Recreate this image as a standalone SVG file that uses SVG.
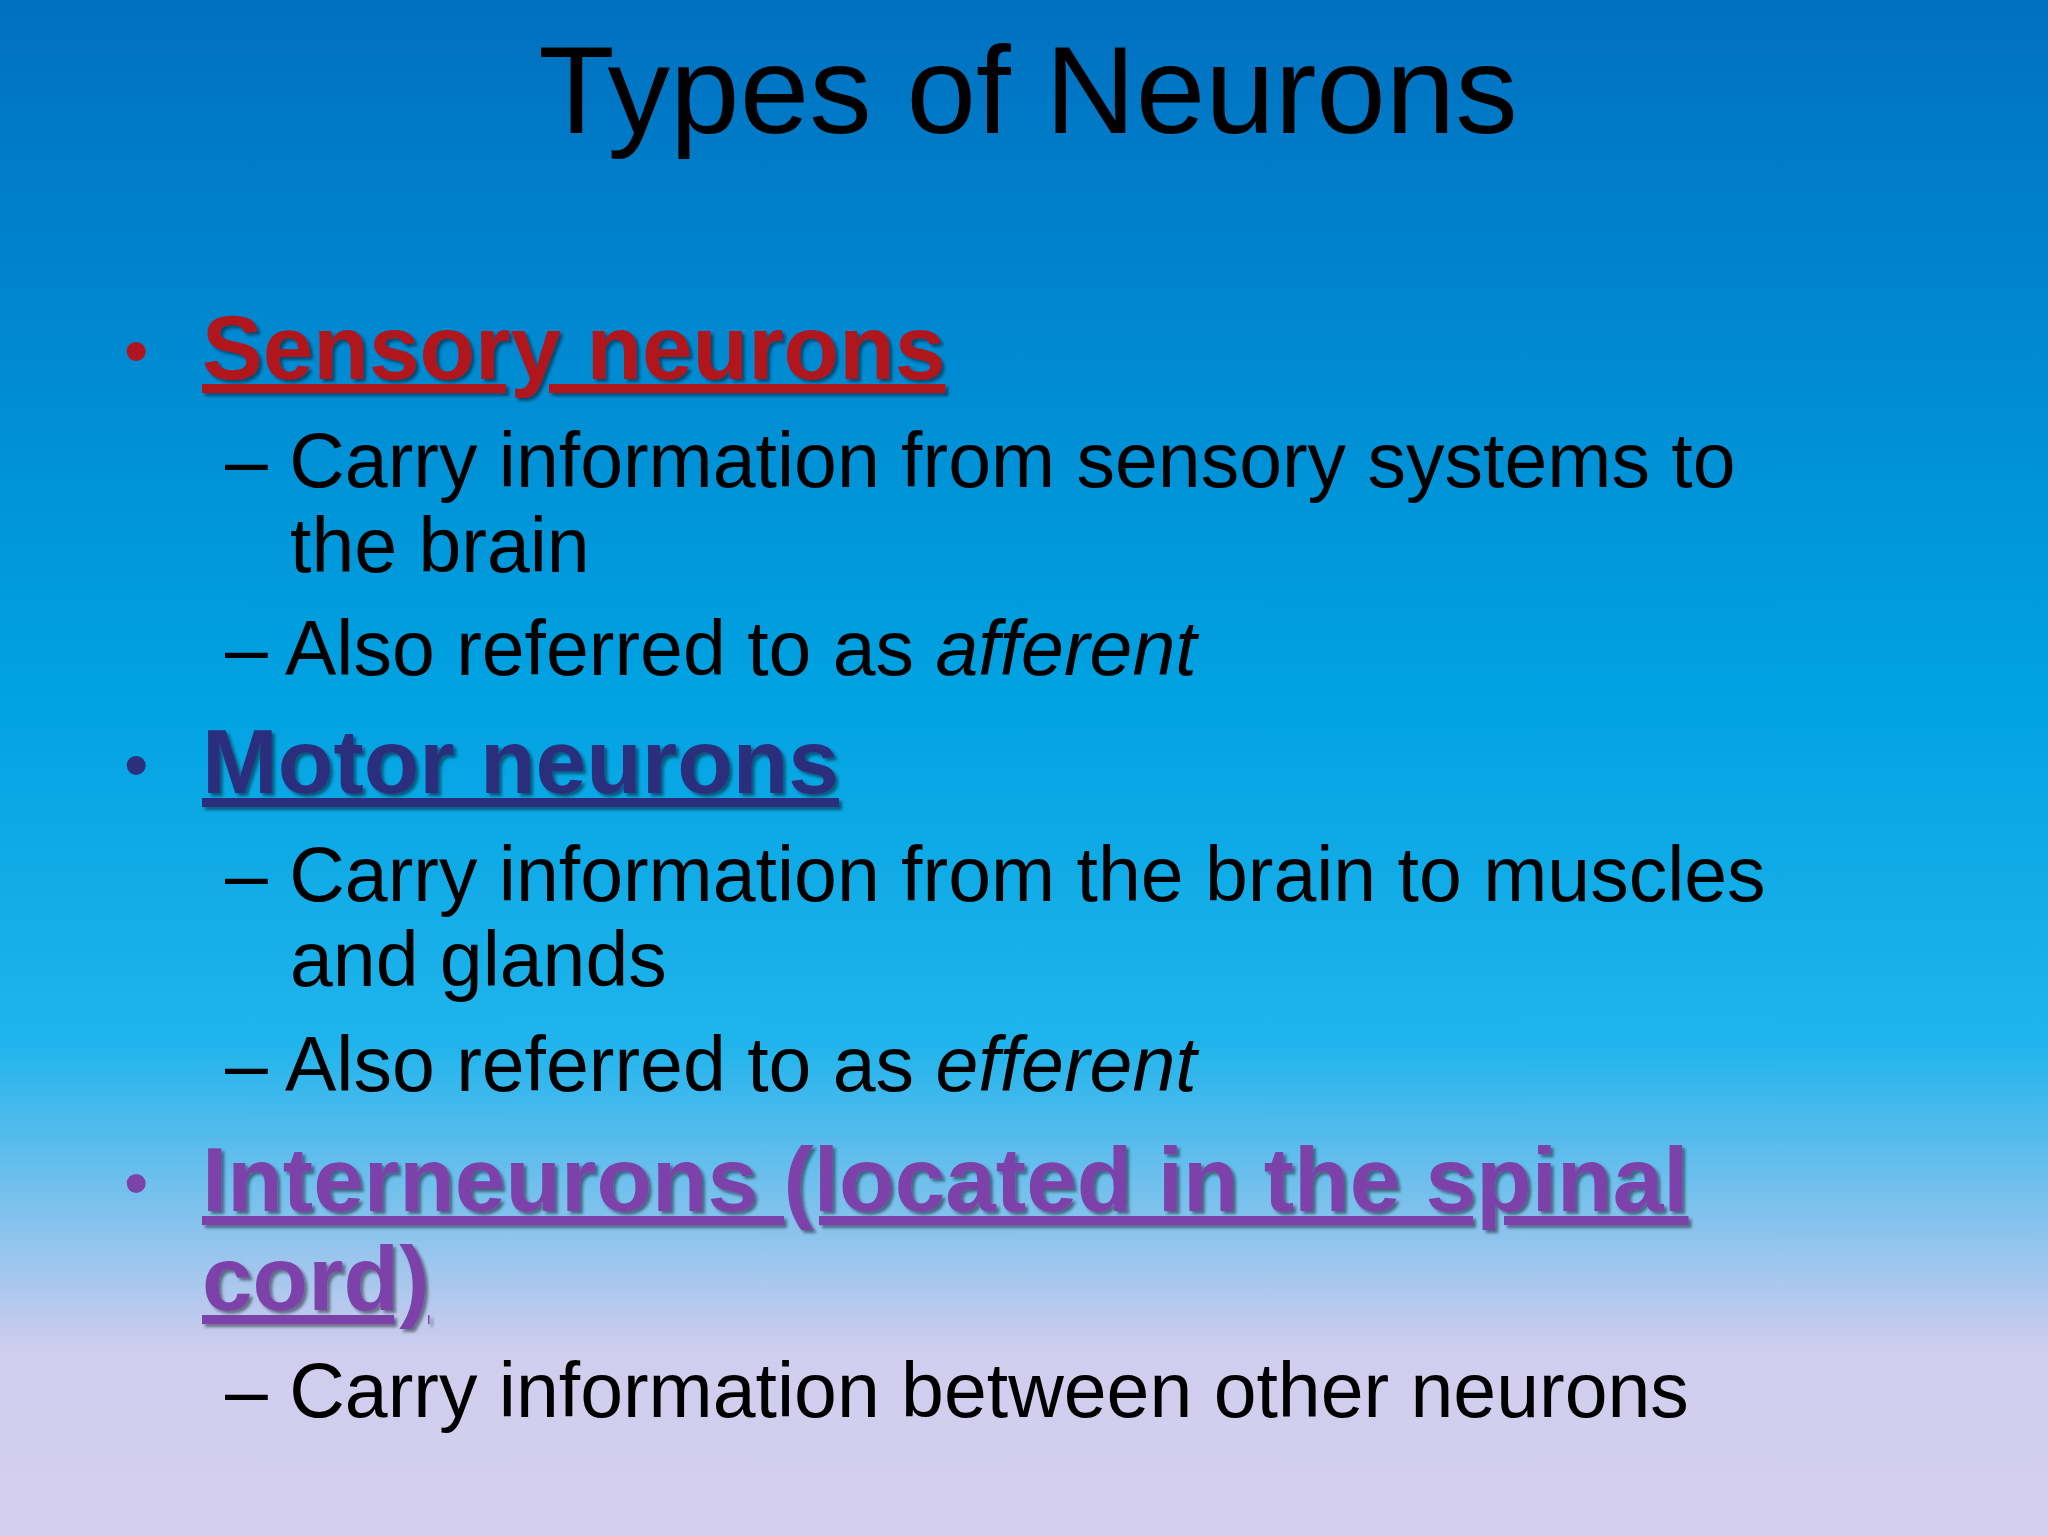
<svg xmlns="http://www.w3.org/2000/svg" width="2048" height="1536" viewBox="0 0 2048 1536">
<defs>
<linearGradient id="bg" x1="0" y1="0" x2="0" y2="1">
<stop offset="0" stop-color="#0070c0"/>
<stop offset="0.45" stop-color="#00a2e2"/>
<stop offset="0.68" stop-color="#20b4ec"/>
<stop offset="0.88" stop-color="#d0cdee"/>
<stop offset="1" stop-color="#d4cfee"/>
</linearGradient>
<filter id="sh" x="-5%" y="-20%" width="110%" height="140%">
<feDropShadow dx="3" dy="3" stdDeviation="1.5" flood-color="#000" flood-opacity="0.45"/>
</filter>
</defs>
<style>
text{font-family:"Liberation Sans",Arial,sans-serif;fill:#000}
.t{font-size:125px}
.h{font-size:91px;font-weight:bold;text-decoration:underline;filter:url(#sh)}
.s{font-size:77px}
.b{font-size:70px}
</style>
<rect width="2048" height="1536" fill="url(#bg)"/>
<text class="t" x="1028" y="133" text-anchor="middle">Types of Neurons</text>
<g id="sensory">
<text class="b" x="124" y="375" style="fill:#b0141e">•</text>
<text class="h" x="202" y="379" style="fill:#b0141e">Sensory neurons</text>
<text class="s" x="225" y="487">– Carry information from sensory systems to</text>
<text class="s" x="290" y="572">the brain</text>
<text class="s" x="225" y="675">– Also referred to as <tspan font-style="italic">afferent</tspan></text>
</g>
<g id="motor">
<text class="b" x="124" y="789" style="fill:#2b2f7c">•</text>
<text class="h" x="202" y="793" style="fill:#2b2f7c">Motor neurons</text>
<text class="s" x="225" y="901">– Carry information from the brain to muscles</text>
<text class="s" x="290" y="986">and glands</text>
<text class="s" x="225" y="1091">– Also referred to as <tspan font-style="italic">efferent</tspan></text>
</g>
<g id="inter">
<text class="b" x="124" y="1207" style="fill:#7b42aa">•</text>
<text class="h" x="202" y="1211" style="fill:#7b42aa">Interneurons (located in the spinal</text>
<text class="h" x="202" y="1310" style="fill:#7b42aa">cord)</text>
<text class="s" x="225" y="1417">– Carry information between other neurons</text>
</g>
</svg>
